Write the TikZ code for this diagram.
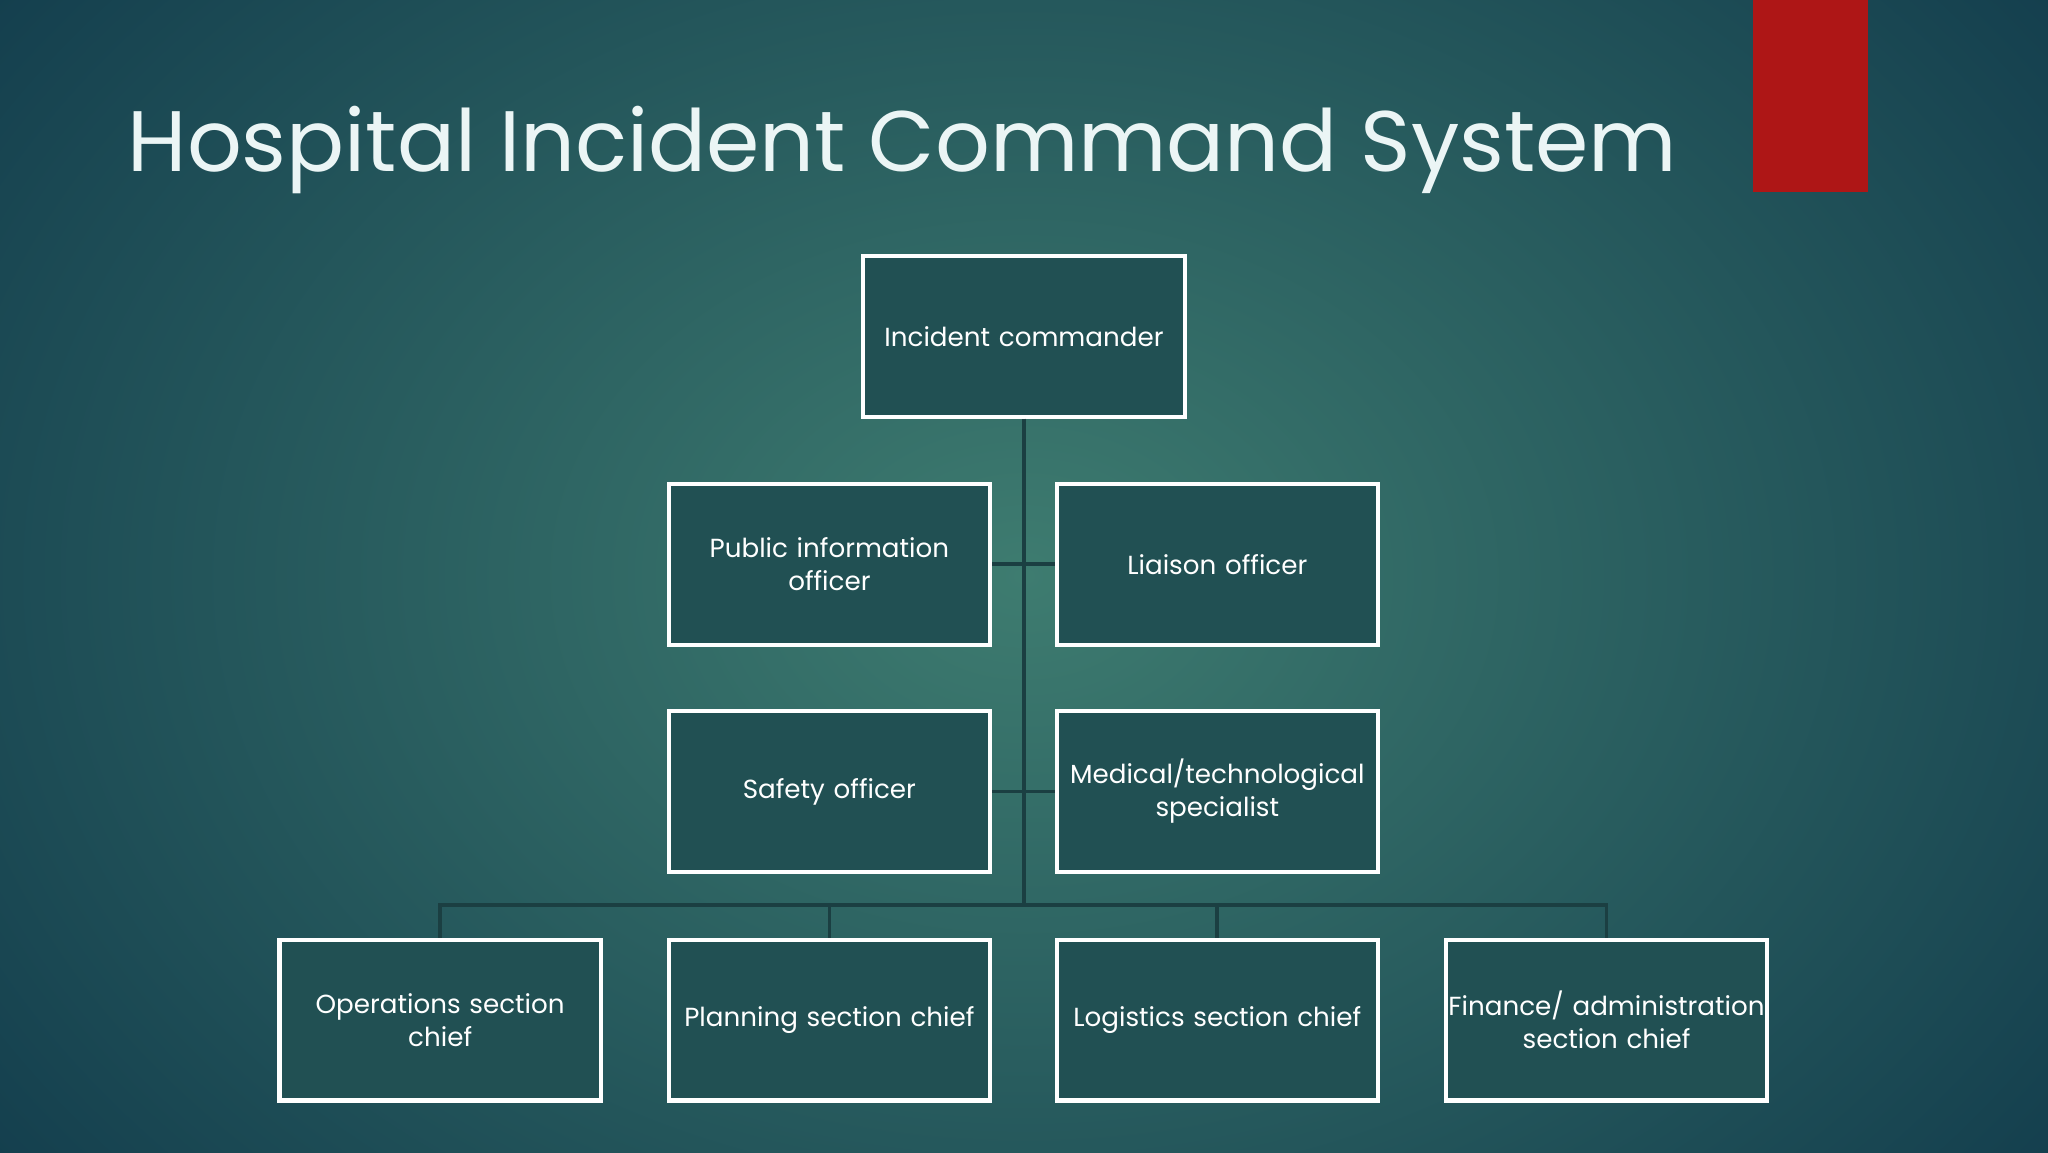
\documentclass[tikz,border=0pt]{standalone}
\usepackage{fontspec}
\setmainfont{Poppins}
\definecolor{bgin}{HTML}{3E7C70}
\definecolor{bgout}{HTML}{143F4E}
\definecolor{boxfill}{HTML}{215053}
\definecolor{lnk}{HTML}{1B3F42}
\definecolor{redb}{HTML}{AE1616}
\tikzset{
  orgbox/.style={draw=white, line width=0.9pt, fill=boxfill, minimum width=2.46cm, minimum height=1.23cm, text width=2.42cm, text=white, align=center, font=\fontsize{5.7}{7.2}\selectfont, inner sep=0.5pt},
  link/.style={draw=lnk, line width=0.8pt}
}
\begin{document}
\begin{tikzpicture}[x=1cm,y=-1cm]
\useasboundingbox (0,0) rectangle (15.68,8.82);
\shade[inner color=bgin, outer color=bgout] (-2,-3) rectangle (17.68,11.82);
\fill[redb] (13.42,0) rectangle (14.30,1.47);
\node[anchor=base west, text=white!92!teal, font=\fontsize{18.7}{22}\selectfont, inner sep=0] (title) at (0.97,1.31) {Hospital Incident Command System};
\node[orgbox] (ic) at (7.84,2.575) {Incident commander};
\node[orgbox] (pio) at (6.35,4.32) {Public information\\officer};
\node[orgbox] (lo) at (9.32,4.32) {Liaison officer};
\node[orgbox] (so) at (6.35,6.06) {Safety officer};
\node[orgbox] (med) at (9.32,6.06) {Medical/technological\\specialist};
\node[orgbox] (ops) at (3.37,7.81) {Operations section\\chief};
\node[orgbox] (pln) at (6.35,7.81) {Planning section chief};
\node[orgbox] (log) at (9.32,7.81) {Logistics section chief};
\node[orgbox] (fin) at (12.30,7.81) {\makebox[2.42cm][c]{Finance/ administration}\\section chief};
\coordinate (hub) at (7.84,6.93);
\draw[link] (ic.south) -- (hub);
\draw[link] (pio.east) -- (lo.west);
\draw[link] (so.east) -- (med.west);
\draw[link] (ops.north) |- (hub);
\draw[link] (fin.north) |- (hub);
\draw[link] (pln.north) -- (pln.north |- hub);
\draw[link] (log.north) -- (log.north |- hub);
\end{tikzpicture}
\end{document}
